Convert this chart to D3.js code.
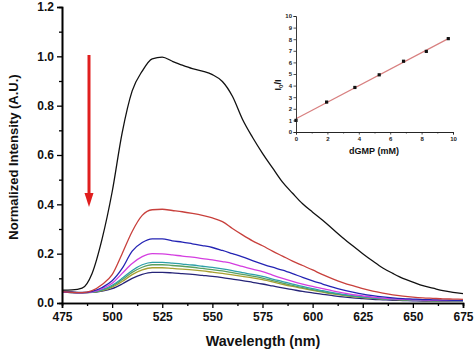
<!DOCTYPE html>
<html><head><meta charset="utf-8">
<script src="https://cdn.jsdelivr.net/npm/d3@7"></script>
<style>body{margin:0;background:#fff}svg{display:block}text{font-family:"Liberation Sans",Arial,sans-serif;font-weight:bold}</style>
</head><body><svg id="c" width="474" height="353"></svg>
<script>
const wavelengths = d3.range(475, 676, 5);
const sBlack = [0.052,0.053,0.060,0.120,0.260,0.450,0.690,0.860,0.940,0.990,0.997,0.980,0.964,0.950,0.940,0.926,0.898,0.838,0.745,0.672,0.607,0.548,0.490,0.445,0.402,0.368,0.335,0.300,0.265,0.232,0.200,0.170,0.142,0.120,0.100,0.085,0.070,0.060,0.050,0.043,0.038];
const sRed = [0.046,0.043,0.042,0.050,0.075,0.115,0.200,0.290,0.355,0.378,0.380,0.375,0.370,0.363,0.355,0.345,0.330,0.302,0.276,0.252,0.232,0.210,0.190,0.170,0.152,0.134,0.115,0.098,0.083,0.070,0.058,0.048,0.040,0.033,0.028,0.024,0.021,0.019,0.017,0.016,0.015];
const sBlue = [0.046,0.043,0.042,0.047,0.063,0.090,0.140,0.210,0.245,0.260,0.260,0.252,0.247,0.240,0.233,0.225,0.213,0.200,0.187,0.172,0.158,0.145,0.133,0.119,0.104,0.090,0.077,0.064,0.053,0.044,0.036,0.030,0.025,0.021,0.018,0.016,0.014,0.013,0.012,0.011,0.011];
const sMagenta = [0.044,0.042,0.041,0.045,0.058,0.080,0.120,0.160,0.188,0.200,0.199,0.195,0.190,0.186,0.180,0.175,0.168,0.160,0.148,0.137,0.127,0.113,0.100,0.088,0.077,0.067,0.058,0.049,0.041,0.034,0.029,0.024,0.020,0.017,0.015,0.013,0.012,0.011,0.010,0.010,0.010];
const sTeal = [0.044,0.042,0.041,0.044,0.054,0.072,0.100,0.132,0.155,0.165,0.165,0.162,0.158,0.154,0.149,0.144,0.138,0.131,0.123,0.116,0.108,0.097,0.087,0.077,0.067,0.058,0.050,0.042,0.035,0.030,0.025,0.021,0.018,0.016,0.014,0.012,0.011,0.010,0.010,0.009,0.009];
const sGreen = [0.044,0.042,0.041,0.043,0.052,0.068,0.094,0.124,0.145,0.155,0.155,0.152,0.149,0.145,0.140,0.135,0.130,0.123,0.116,0.109,0.101,0.091,0.081,0.071,0.062,0.054,0.046,0.039,0.033,0.028,0.024,0.020,0.017,0.015,0.013,0.012,0.011,0.010,0.009,0.009,0.009];
const sOlive = [0.044,0.042,0.041,0.043,0.050,0.064,0.087,0.115,0.134,0.143,0.143,0.140,0.137,0.134,0.130,0.125,0.120,0.114,0.108,0.102,0.095,0.086,0.076,0.067,0.059,0.051,0.044,0.037,0.031,0.026,0.022,0.019,0.016,0.014,0.012,0.011,0.010,0.009,0.009,0.008,0.008];
const sNavy = [0.048,0.045,0.043,0.043,0.048,0.058,0.077,0.100,0.116,0.124,0.124,0.122,0.119,0.116,0.112,0.108,0.103,0.097,0.091,0.084,0.077,0.069,0.061,0.054,0.047,0.041,0.035,0.030,0.025,0.021,0.018,0.015,0.013,0.011,0.010,0.009,0.008,0.008,0.007,0.007,0.007];
const seriesNames = ["black","red","blue","magenta","teal","green","olive","navy"];
const seriesValues = [sBlack,sRed,sBlue,sMagenta,sTeal,sGreen,sOlive,sNavy];
const seriesColors = ["#111111","#c8403c","#2424b4","#d43ee0","#2ea0a8","#5aa060","#a8a030","#262478"];
const xTicks = [475,500,525,550,575,600,625,650,675];
const yTicks = [0.0,0.2,0.4,0.6,0.8,1.0,1.2];

const insetX = [0,1.95,3.75,5.3,6.85,8.3,9.7];
const insetY = [1.0,2.58,3.84,4.93,6.1,6.95,8.05];
const fitX = [0,9.7];
const fitY = [1.15,8.05];
const insetXTicks = [0,2,4,6,8,10];
const insetYTicks = [0,1,2,3,4,5,6,7,8,9,10];

const svg = d3.select("#c");
const x = d3.scaleLinear().domain([475,675]).range([62,463]);
const y = d3.scaleLinear().domain([0,1.2]).range([303,7]);

const line = d3.line().x((d,i)=>x(wavelengths[i])).y(d=>y(d)).curve(d3.curveMonotoneX);
seriesValues.slice().reverse().forEach((vals,k)=>{
  const i = seriesValues.length-1-k;
  svg.append("path").attr("d", line(vals)).attr("fill","none")
    .attr("stroke", seriesColors[i]).attr("stroke-width",1.3);
});

const xAxis = d3.axisBottom(x).tickValues(xTicks).tickSize(5).tickPadding(4).tickFormat(d3.format("d"));
const gx = svg.append("g").attr("transform","translate(0,303)").call(xAxis);
const xMinor = d3.axisBottom(x).tickValues(d3.range(487.5,675,25)).tickSize(3).tickFormat("");
svg.append("g").attr("transform","translate(0,303)").call(xMinor);
const yAxis = d3.axisLeft(y).tickValues(yTicks).tickSize(5).tickPadding(3).tickFormat(d3.format(".1f"));
const gy = svg.append("g").attr("transform","translate(62,0)").call(yAxis);
const yMinor = d3.axisLeft(y).tickValues(d3.range(0.1,1.2,0.2)).tickSize(3).tickFormat("");
svg.append("g").attr("transform","translate(62,0)").call(yMinor);
svg.selectAll(".domain").attr("stroke","#000").attr("stroke-width",1.6);
svg.selectAll(".tick line").attr("stroke","#000").attr("stroke-width",1.3);
gx.selectAll("text").attr("font-size",12).attr("fill","#111");
gy.selectAll("text").attr("font-size",12).attr("fill","#111");

svg.append("text").attr("x",263).attr("y",346).attr("text-anchor","middle").attr("font-size",14.3).attr("fill","#111").text("Wavelength (nm)");
svg.append("text").attr("transform","translate(18,157) rotate(-90)").attr("text-anchor","middle").attr("font-size",13).attr("fill","#111").text("Normalized Intensity (A.U.)");

svg.append("line").attr("x1",89).attr("y1",55).attr("x2",89).attr("y2",195).attr("stroke","#e01e1e").attr("stroke-width",3);
svg.append("path").attr("d","M84.5,193 L93.5,193 L89,207 Z").attr("fill","#e01e1e");

const ix = d3.scaleLinear().domain([0,10]).range([296,453]);
const iy = d3.scaleLinear().domain([0,10]).range([132,16]);
const ins = svg.append("g");
ins.append("path").attr("d", d3.line().x((d,i)=>ix(fitX[i])).y(d=>iy(d))(fitY))
  .attr("stroke","#d88080").attr("stroke-width",1.2).attr("fill","none");
ins.selectAll("rect.pt").data(insetY).join("rect").attr("class","pt")
  .attr("x",(d,i)=>ix(insetX[i])-1.6).attr("y",d=>iy(d)-1.6).attr("width",3.2).attr("height",3.2).attr("fill","#111");
ins.append("g").attr("transform","translate(0,132)")
  .call(d3.axisBottom(ix).tickValues(insetXTicks).tickSize(2.5).tickPadding(2));
ins.append("g").attr("transform","translate(0,132)")
  .call(d3.axisBottom(ix).tickValues([1,3,5,7,9]).tickSize(1.5).tickFormat(""));
ins.append("g").attr("transform","translate(296,0)")
  .call(d3.axisLeft(iy).tickValues(insetYTicks).tickSize(2.5).tickPadding(1.5));
ins.selectAll(".domain").attr("stroke","#222").attr("stroke-width",0.9);
ins.selectAll(".tick line").attr("stroke","#222").attr("stroke-width",0.8);
ins.selectAll(".tick text").attr("font-size",6).attr("fill","#222");
ins.append("text").attr("x",374).attr("y",154).attr("text-anchor","middle").attr("font-size",9).attr("fill","#111").text("dGMP (mM)");
const il = ins.append("text").attr("transform","translate(281,85) rotate(-90)").attr("text-anchor","middle").attr("font-size",9).attr("fill","#111");
il.append("tspan").text("I");
il.append("tspan").attr("font-size",6).attr("dy",2).text("0");
il.append("tspan").attr("dy",-2).text("/I");
</script></body></html>
